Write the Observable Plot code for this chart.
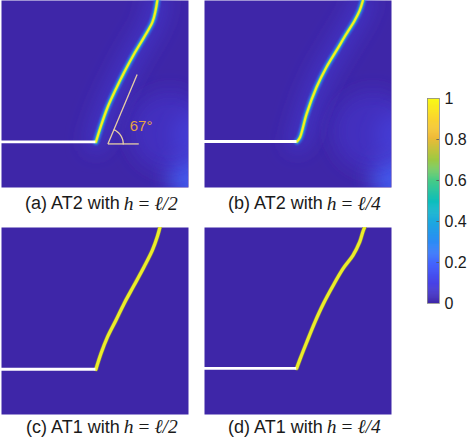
<!DOCTYPE html>
<html><head><meta charset="utf-8">
<script src="https://cdn.jsdelivr.net/npm/d3@7"></script>
<script src="https://cdn.jsdelivr.net/npm/@observablehq/plot@0.6"></script>
<style>
body{margin:0;background:#fff;}
#wrap{position:relative;width:474px;height:438px;overflow:hidden;background:#fff;}
#main{position:absolute;left:0;top:0;}
#cbar{position:absolute;left:400px;top:0;}
</style></head>
<body><div id="wrap"><div id="main"></div><div id="cbar"></div></div>
<script>
// ---------- data ----------
const models = ["AT2", "AT1"];
const meshes = ["ℓ/2", "ℓ/4"];
const panelIds = ["a", "b", "c", "d"];
// notch height (fraction of specimen height) and notch tip position
const notchY = [0.244, 0.246, 0.242, 0.247];
const tipX = [0.505, 0.495, 0.505, 0.493];
// crack paths (x, y in specimen units, y measured upward)
const crackA_x = [0.505, 0.532, 0.567, 0.612, 0.656, 0.709, 0.762, 0.807, 0.824, 0.833];
const crackA_y = [0.244, 0.330, 0.428, 0.527, 0.616, 0.714, 0.803, 0.884, 0.946, 1.0];
const crackB_x = [0.495, 0.511, 0.546, 0.599, 0.652, 0.706, 0.759, 0.803, 0.830, 0.847];
const crackB_y = [0.246, 0.269, 0.394, 0.536, 0.643, 0.733, 0.822, 0.893, 0.947, 1.0];
const crackC_x = [0.505, 0.532, 0.567, 0.612, 0.656, 0.709, 0.762, 0.807, 0.833, 0.847];
const crackC_y = [0.242, 0.326, 0.415, 0.504, 0.594, 0.691, 0.789, 0.879, 0.950, 1.0];
const crackD_x = [0.493, 0.511, 0.546, 0.590, 0.635, 0.688, 0.741, 0.794, 0.830, 0.847, 0.856];
const crackD_y = [0.247, 0.296, 0.385, 0.493, 0.591, 0.690, 0.780, 0.851, 0.923, 0.977, 1.0];
// angle annotation in panel (a)
const angleDeg = 67;
const angleLabel = "67°";
// colorbar
const cbTicks = [0, 0.2, 0.4, 0.6, 0.8, 1];
const cbTickLabels = ["0", "0.2", "0.4", "0.6", "0.8", "1"];
// parula colormap
const parulaPos = [0, 0.095, 0.19, 0.286, 0.397, 0.492, 0.603, 0.698, 0.81, 0.905, 1];
const parulaHex = ["#3e26a8", "#4741e5", "#4563fd", "#2e87f7", "#1ca9df", "#0bbdbd", "#4acb84", "#9dc943", "#f0ba36", "#fad62d", "#f9fb15"];

// ---------- build tables ----------
const parula = d3.scaleLinear().domain(parulaPos).range(parulaHex).interpolate(d3.interpolateRgb).clamp(true);
const crackXs = [crackA_x, crackB_x, crackC_x, crackD_x];
const crackYs = [crackA_y, crackB_y, crackC_y, crackD_y];
const panels = panelIds.map((id, i) => {
  const model = models[Math.floor(i / 2)], mesh = meshes[i % 2];
  return {id, model, mesh, lead: `(${id}) ${model} with`, math: `h\u2009=\u2009${mesh}`, notchY: notchY[i], tipX: tipX[i]};
});
const cracks = panels.flatMap((p, i) => crackXs[i].map((x, j) => ({panel: p.id, model: p.model, mesh: p.mesh, x, y: crackYs[i][j]})));
const at2 = cracks.filter(d => d.model === "AT2");
const at1 = cracks.filter(d => d.model === "AT1");
const at2Panels = panels.filter(d => d.model === "AT2");

// annotation geometry (panel a)
const vtx = {x: 0.569, y: 0.233};
const armH = 0.165, armL = 0.40, arcR = 0.082;
const rad = angleDeg * Math.PI / 180;
const annoFacet = {model: "AT2", mesh: "ℓ/2"};
const annoLinks = [
  {...annoFacet, x1: vtx.x, y1: vtx.y, x2: vtx.x + armH, y2: vtx.y},
  {...annoFacet, x1: vtx.x, y1: vtx.y, x2: vtx.x + armL * Math.cos(rad), y2: vtx.y + armL * Math.sin(rad) * 188 / 186.5}
];
const arcPts = d3.range(0, angleDeg + 0.1, 3).map(a => ({...annoFacet, x: vtx.x + arcR * Math.cos(a * Math.PI / 180), y: vtx.y + arcR * Math.sin(a * Math.PI / 180) * 188 / 186.5}));
const annoText = [{...annoFacet, text: angleLabel, x: 0.686, y: 0.330}];

const F = {fx: "mesh", fy: "model"};
const curve = "catmull-rom";
const labelSplit = 0.632;
const leadFont = "Liberation Sans, Arial, sans-serif";
const mathFont = "Liberation Serif, DejaVu Serif, serif";

const captionMarks = (rows, dy) => [
  Plot.text(rows, {...F, x: () => labelSplit, y: () => 0, dy, text: "lead", textAnchor: "end", fontSize: 18, fontFamily: leadFont, fill: "#1a1a1a"}),
  Plot.text(rows, {...F, x: () => labelSplit, y: () => 0, dy, dx: 4, text: "math", textAnchor: "start", fontSize: 19.5, fontStyle: "italic", fontFamily: mathFont, fill: "#1a1a1a"})
];

const mainPlot = Plot.plot({
  width: 394, height: 438,
  marginLeft: 0, marginRight: 2, marginTop: 0, marginBottom: 23,
  x: {domain: [0, 1], axis: null},
  y: {domain: [0, 1], axis: null},
  fx: {domain: meshes, paddingInner: 0.0784, paddingOuter: 0, axis: null},
  fy: {domain: models, paddingInner: 0.1758, paddingOuter: 0, axis: null},
  style: {background: "transparent", fontFamily: leadFont},
  marks: [
    Plot.frame({fill: parula(0)}),
    // AT2 diffuse fields
    Plot.dot(at2Panels, {...F, x: () => 1.02, y: () => 0.05, r: 24, fill: parula(0.2), fillOpacity: 0.8, clip: true, ariaDescription: "blurBig"}),
    Plot.dot(at2Panels, {...F, x: () => 1.03, y: () => 0.28, r: 22, fill: parula(0.14), fillOpacity: 0.6, clip: true, ariaDescription: "blurBig"}),
    Plot.dot(at2Panels, {...F, x: () => 0.9, y: () => 0.3, r: 40, fill: parula(0.07), fillOpacity: 0.5, clip: true, ariaDescription: "blurBig"}),
    Plot.line(at2, {...F, x: "x", y: "y", z: "panel", curve, stroke: parula(0.09), strokeWidth: 22, strokeOpacity: 0.45, clip: true, ariaDescription: "blurBig"}),
    Plot.line(at2, {...F, x: "x", y: "y", z: "panel", curve, stroke: parula(0.3), strokeWidth: 6, strokeOpacity: 0.85, clip: true, ariaDescription: "blurSmall"}),
    Plot.line(at2, {...F, x: "x", y: "y", z: "panel", curve, stroke: parula(0.6), strokeWidth: 3.6, clip: true}),
    Plot.line(at2, {...F, x: "x", y: "y", z: "panel", curve, stroke: parula(0.97), strokeWidth: 2.2, clip: true}),
    // AT1 sharp cracks
    Plot.line(at1, {...F, x: "x", y: "y", z: "panel", curve, stroke: "#8f9a3a", strokeWidth: 4.4, strokeOpacity: 0.7, clip: true}),
    Plot.line(at1, {...F, x: "x", y: "y", z: "panel", curve, stroke: "#ecec2a", strokeWidth: 3.2, clip: true}),
    // notch
    Plot.ruleY(panels, {...F, y: "notchY", x1: () => 0, x2: "tipX", stroke: "white", strokeWidth: 2.8}),
    // angle annotation
    Plot.link(annoLinks, {...F, x1: "x1", y1: "y1", x2: "x2", y2: "y2", stroke: "#e7cfa6", strokeWidth: 1.3}),
    Plot.line(arcPts, {...F, x: "x", y: "y", stroke: "#e7cfa6", strokeWidth: 1.3}),
    Plot.text(annoText, {...F, x: "x", y: "y", text: "text", textAnchor: "start", fill: "#e6a443", fontSize: 15}),
    // captions
    ...captionMarks(panels.filter(d => d.model === "AT2"), 16),
    ...captionMarks(panels.filter(d => d.model === "AT1"), 12.5)
  ]
});

// blur filters for the diffuse phase-field glow
(function addFilters(node) {
  const svg = node.tagName.toLowerCase() === "svg" ? node : node.querySelector("svg");
  const ns = "http://www.w3.org/2000/svg";
  const defs = document.createElementNS(ns, "defs");
  [["blurBig", 10], ["blurSmall", 1.3]].forEach(([id, s]) => {
    const f = document.createElementNS(ns, "filter");
    f.setAttribute("id", id);
    f.setAttribute("filterUnits", "userSpaceOnUse");
    f.setAttribute("x", "-500"); f.setAttribute("y", "-500");
    f.setAttribute("width", "2000"); f.setAttribute("height", "2000");
    const g = document.createElementNS(ns, "feGaussianBlur");
    g.setAttribute("stdDeviation", s);
    f.appendChild(g); defs.appendChild(f);
  });
  svg.insertBefore(defs, svg.firstChild);
  ["blurBig", "blurSmall"].forEach(id => {
    svg.querySelectorAll(`[aria-description="${id}"]`).forEach(g => {
      g.querySelectorAll("path,circle,line").forEach(el => el.setAttribute("filter", `url(#${id})`));
    });
  });
})(mainPlot);
document.getElementById("main").appendChild(mainPlot);

// ---------- colorbar ----------
const ramp = d3.range(0, 1, 0.005);
const cbar = Plot.plot({
  width: 74, height: 438,
  marginLeft: 27, marginRight: 35, marginTop: 98, marginBottom: 135,
  x: {domain: [0, 1], axis: null},
  y: {domain: [0, 1], axis: "right", ticks: cbTicks, tickFormat: (d) => cbTickLabels[cbTicks.indexOf(d)], tickSize: 0, tickPadding: 5, label: null},
  color: {type: "linear", domain: parulaPos, range: parulaHex, interpolate: "rgb"},
  style: {background: "transparent", fontSize: "16px", fontFamily: leadFont, color: "#1a1a1a"},
  marks: [
    Plot.rect(ramp, {x1: () => 0, x2: () => 1, y1: d => d, y2: d => Math.min(1, d + 0.0075), fill: d => d + 0.0025}),
    Plot.ruleY(cbTicks.slice(1, -1), {y: d => d, x1: () => 0.78, x2: () => 1, stroke: "#555", strokeWidth: 0.8}),
    Plot.frame({stroke: "#8a8a8a", strokeWidth: 0.8})
  ]
});
document.getElementById("cbar").appendChild(cbar);
</script>
</body></html>
